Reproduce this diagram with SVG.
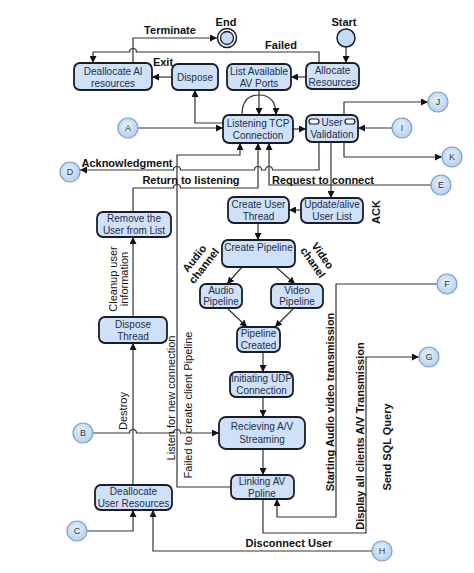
<svg xmlns="http://www.w3.org/2000/svg" width="474" height="573" viewBox="0 0 474 573">
<style>
.box{fill:#cfe1f6;stroke:#1a1c2a;stroke-width:1.8}
.bt{font-family:"Liberation Sans",Arial,sans-serif;font-size:10px;fill:#1f2d4d;text-anchor:middle}
.circ{fill:url(#cg);stroke:#7c9fc6;stroke-width:1.2}
.ct{font-family:"Liberation Sans",Arial,sans-serif;font-size:9px;fill:#333;text-anchor:middle;dominant-baseline:central}
.lab{font-family:"Liberation Sans",Arial,sans-serif;font-size:11px;font-weight:bold;fill:#111;text-anchor:middle}
.rl{font-family:"Liberation Sans",Arial,sans-serif;font-size:11px;fill:#111;text-anchor:middle;dominant-baseline:central}
.rb{font-family:"Liberation Sans",Arial,sans-serif;font-size:11px;font-weight:bold;fill:#111;text-anchor:middle;dominant-baseline:central}
.ln{fill:none;stroke:#333;stroke-width:1.2}
.ar{marker-end:url(#ah)}
</style>
<defs>
<radialGradient id="cg" cx="0.45" cy="0.4" r="0.6">
<stop offset="0" stop-color="#e6f2fc"/>
<stop offset="1" stop-color="#b2d0ec"/>
</radialGradient>
<marker id="ah" viewBox="0 0 10 10" refX="10" refY="5" markerWidth="7" markerHeight="7" markerUnits="userSpaceOnUse" orient="auto">
<path d="M0,0 L10,5 L0,10 z" fill="#111"/>
</marker>
</defs>
<rect width="474" height="573" fill="#fff"/>

<g id="connectors">
<path class="ln ar" d="M346,47 V63"/>
<path class="ln ar" d="M306,77 H291"/>
<path class="ln ar" d="M319,63 V52 H136.5 a3.5,3.5 0 0 0 -7,0 H93 V63"/>
<path class="ln ar" d="M133,63 V38 H217"/>
<path class="ln ar" d="M172,77 H152"/>
<path class="ln ar" d="M223,123 H195 V90"/>
<path class="ln ar" d="M138,128 H223"/>
<path class="ln ar" d="M259,90 V115"/>
<path class="ln ar" d="M242,115 C242,99 250,95 259,95 C268,95 276,99 276,115"/>
<path class="ln ar" d="M293,129 H306"/>
<path class="ln ar" d="M344,115 V102 H428"/>
<path class="ln ar" d="M392,128 H358"/>
<path class="ln ar" d="M344,142 V157 H442"/>
<path class="ln ar" d="M331,142 V198"/>
<path class="ln ar" d="M301,210 H289"/>
<path class="ln ar" d="M431,185 H269 V143"/>
<path class="ln ar" d="M319,142 V170 H272.5 a3.5,3.5 0 0 0 -7,0 H261.5 a3.5,3.5 0 0 0 -7,0 H180.5 a3.5,3.5 0 0 0 -7,0 H80"/>
<path class="ln ar" d="M133,212 V188 H173.5 a3.5,3.5 0 0 1 7,0 H258 V143"/>
<path class="ln ar" d="M231,487 H177 V155 H240 V143"/>
<path class="ln ar" d="M258,223 V240"/>
<path class="ln ar" d="M242,267 L227,284"/>
<path class="ln ar" d="M276,267 L295,284"/>
<path class="ln ar" d="M228,309 L247,327"/>
<path class="ln ar" d="M293,309 L275,327"/>
<path class="ln ar" d="M263,352 V372"/>
<path class="ln ar" d="M263,397 V417"/>
<path class="ln ar" d="M263,449 V475"/>
<path class="ln ar" d="M93,433 H129.5 a3.5,3.5 0 0 1 7,0 H173.5 a3.5,3.5 0 0 1 7,0 H219"/>
<path class="ln ar" d="M133,485 V343"/>
<path class="ln ar" d="M133,317 V237"/>
<path class="ln ar" d="M87,531 H133 V510"/>
<path class="ln ar" d="M372,551 H153 V510"/>
<path class="ln ar" d="M263,499 V533 H366 V357 H419"/>
<path class="ln ar" d="M437,284 H336 V517 H277 V499"/>
</g>

<g id="labels">
<text class="lab" x="170" y="34">Terminate</text>
<text class="lab" x="281" y="49">Failed</text>
<text class="lab" x="163" y="66">Exit</text>
<text class="lab" x="127" y="167">Acknowledgment</text>
<text class="lab" x="191" y="184">Return to listening</text>
<text class="lab" x="323" y="184">Request to connect</text>
<text class="lab" x="289" y="547">Disconnect User</text>
<text class="rb" font-size="9.5" transform="translate(376,212) rotate(-90)">ACK</text>
<text class="rl" transform="translate(123,411) rotate(-90)">Destroy</text>
<text class="rl" transform="translate(113,279) rotate(-90)">Cleanup user</text>
<text class="rl" transform="translate(124,279) rotate(-90)">information</text>
<text class="rl" transform="translate(171,398) rotate(-90)">Listen for new connection</text>
<text class="rl" transform="translate(188,405) rotate(-90)">Failed to create client Pipeline</text>
<text class="rb" transform="translate(330,402) rotate(-90)">Starting Audio video transmission</text>
<text class="rb" transform="translate(360,436) rotate(-90)">Display all clients A/V Transmission</text>
<text class="rb" transform="translate(387,447) rotate(-90)">Send SQL Query</text>
<g transform="translate(199,262) rotate(-52)">
<text class="rb" font-size="10" x="0" y="-6">Audio</text>
<text class="rb" font-size="10" x="0" y="6">channel</text>
</g>
<g transform="translate(318,259) rotate(55)">
<text class="rb" font-size="10" x="0" y="-6">Video</text>
<text class="rb" font-size="10" x="0" y="6">chanel</text>
</g>
</g>

<g id="start">
<text class="lab" x="344" y="26">Start</text>
<circle cx="346" cy="38" r="9" fill="#c4dcf2" stroke="#1a1c2a" stroke-width="1.5"/>
</g>
<g id="end">
<text class="lab" x="226" y="26">End</text>
<circle cx="227" cy="38" r="9.5" fill="#fff" stroke="#1a1c2a" stroke-width="1.5"/>
<circle cx="227" cy="38" r="6.5" fill="#c4dcf2" stroke="#1a1c2a" stroke-width="1.3"/>
</g>

<g id="dealloc-all"><rect class="box" x="74" y="63" width="78" height="27" rx="6"/><text class="bt" x="113" y="75">Deallocate Al</text><text class="bt" x="113" y="87">resources</text></g>
<g id="dispose"><rect class="box" x="172" y="64" width="46" height="26" rx="6"/><text class="bt" x="195" y="81">Dispose</text></g>
<g id="list-av"><rect class="box" x="227" y="64" width="64" height="26" rx="6"/><text class="bt" x="259" y="75">List Available</text><text class="bt" x="259" y="87">AV Ports</text></g>
<g id="allocate"><rect class="box" x="306" y="63" width="53" height="26" rx="6"/><text class="bt" x="332.5" y="74">Allocate</text><text class="bt" x="332.5" y="86">Resources</text></g>
<g id="listening"><rect class="box" x="223" y="115" width="70" height="28" rx="6"/><text class="bt" x="258" y="127">Listening TCP</text><text class="bt" x="258" y="139">Connection</text></g>
<g id="user-validation"><rect class="box" x="306" y="115" width="52" height="27" rx="6"/>
<rect x="309" y="119" width="10" height="5" rx="2.5" fill="#fff" stroke="#1a1c2a" stroke-width="1.2"/>
<rect x="345" y="119" width="10" height="5" rx="2.5" fill="#fff" stroke="#1a1c2a" stroke-width="1.2"/>
<text class="bt" x="332" y="126">User</text><text class="bt" x="332" y="138">Validation</text></g>
<g id="create-user-thread"><rect class="box" x="228" y="197" width="61" height="26" rx="6"/><text class="bt" x="258.5" y="208">Create User</text><text class="bt" x="258.5" y="220">Thread</text></g>
<g id="update-alive"><rect class="box" x="301" y="198" width="62" height="25" rx="6"/><text class="bt" x="332" y="208">Update/alive</text><text class="bt" x="332" y="220">User List</text></g>
<g id="create-pipeline"><rect class="box" x="222" y="240" width="73" height="27" rx="6"/><text class="bt" x="258.5" y="251">Create Pipeline</text></g>
<g id="audio-pipeline"><rect class="box" x="200" y="284" width="42" height="24" rx="6"/><text class="bt" x="221" y="294">Audio</text><text class="bt" x="221" y="305">Pipeline</text></g>
<g id="video-pipeline"><rect class="box" x="271" y="284" width="52" height="24" rx="6"/><text class="bt" x="297" y="294">Video</text><text class="bt" x="297" y="305">Pipeline</text></g>
<g id="pipeline-created"><rect class="box" x="237" y="327" width="43" height="25" rx="6"/><text class="bt" x="258.5" y="337">Pipeline</text><text class="bt" x="258.5" y="349">Created</text></g>
<g id="initiating-udp"><rect class="box" x="230" y="372" width="63" height="25" rx="6"/><text class="bt" font-size="9.3" x="261.5" y="382">Initiating UDP</text><text class="bt" x="261.5" y="394">Connection</text></g>
<g id="receiving"><rect class="box" x="219" y="417" width="86" height="32" rx="7"/><text class="bt" x="262" y="430">Recieving A/V</text><text class="bt" x="262" y="443">Streaming</text></g>
<g id="linking"><rect class="box" x="231" y="475" width="63" height="24" rx="6"/><text class="bt" x="262" y="485">Linking AV</text><text class="bt" x="262" y="497">Ppline</text></g>
<g id="remove-user"><rect class="box" x="97" y="212" width="74" height="25" rx="6"/><text class="bt" x="134" y="222">Remove the</text><text class="bt" x="134" y="234">User from List</text></g>
<g id="dispose-thread"><rect class="box" x="99" y="317" width="68" height="26" rx="6"/><text class="bt" x="133" y="328">Dispose</text><text class="bt" x="133" y="340">Thread</text></g>
<g id="dealloc-user"><rect class="box" x="95" y="485" width="77" height="25" rx="6"/><text class="bt" x="133.5" y="495">Deallocate</text><text class="bt" x="133.5" y="507">User Resources</text></g>

<g id="A"><circle class="circ" cx="128" cy="128" r="10"/><text class="ct" x="128" y="128">A</text></g>
<g id="B"><circle class="circ" cx="83" cy="433" r="10"/><text class="ct" x="83" y="433">B</text></g>
<g id="C"><circle class="circ" cx="77" cy="531" r="10"/><text class="ct" x="77" y="531">C</text></g>
<g id="D"><circle class="circ" cx="70" cy="172" r="10"/><text class="ct" x="70" y="172">D</text></g>
<g id="E"><circle class="circ" cx="441" cy="185" r="10"/><text class="ct" x="441" y="185">E</text></g>
<g id="F"><circle class="circ" cx="447" cy="284" r="10"/><text class="ct" x="447" y="284">F</text></g>
<g id="G"><circle class="circ" cx="429" cy="357" r="10"/><text class="ct" x="429" y="357">G</text></g>
<g id="H"><circle class="circ" cx="382" cy="551" r="10"/><text class="ct" x="382" y="551">H</text></g>
<g id="I"><circle class="circ" cx="402" cy="128" r="10"/><text class="ct" x="402" y="128">I</text></g>
<g id="J"><circle class="circ" cx="438" cy="102" r="10"/><text class="ct" x="438" y="102">J</text></g>
<g id="K"><circle class="circ" cx="452" cy="157" r="10"/><text class="ct" x="452" y="157">K</text></g>
</svg>
